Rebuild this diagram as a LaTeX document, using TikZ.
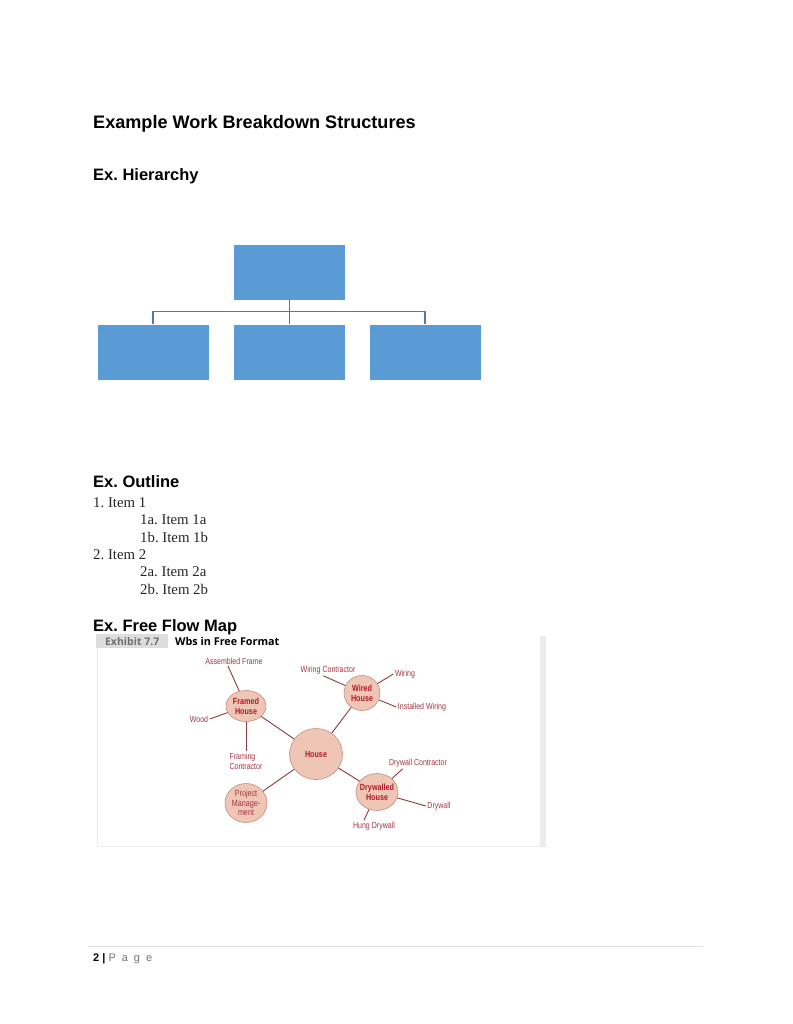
\documentclass[tikz,border=0pt]{standalone}
\usepackage{fontspec}
\setmainfont{Liberation Sans}
\newfontfamily\outfont{Liberation Serif}
\newfontfamily\condfont[FakeStretch=0.8]{Liberation Sans}
\newfontfamily\exfont{Open Sans}
\usetikzlibrary{shapes.geometric,calc}
\frenchspacing
\definecolor{boxblue}{HTML}{5B9BD5}
\definecolor{connblue}{HTML}{4A7DAE}
\definecolor{bubfill}{HTML}{EFC6B6}
\definecolor{bubdraw}{HTML}{C48C7C}
\definecolor{maproon}{HTML}{8A3B3E}
\definecolor{labred}{HTML}{A33445}
\definecolor{bubred}{HTML}{B01A2C}
\definecolor{exgray}{HTML}{DDDDDD}
\definecolor{extext}{HTML}{6E6E6E}
\definecolor{framegray}{HTML}{EBEBEB}
\tikzset{
  head/.style={anchor=base west, inner sep=0pt, font=\bfseries\fontsize{16.5}{19}\selectfont},
  outl/.style={anchor=base west, inner sep=0pt, text=black!85, font=\outfont\fontsize{14.8}{17}\selectfont},
  hbox/.style={rectangle, fill=boxblue, minimum width=111pt, minimum height=55pt, inner sep=0pt},
  hconn/.style={draw=connblue, line width=1.3pt},
  bub/.style={ellipse, fill=bubfill, draw=bubdraw, line width=0.6pt, inner sep=0pt},
  bubtxt/.style={align=center, inner sep=0pt, text=bubred, font=\condfont\bfseries\fontsize{9}{9.7}\selectfont},
  lab/.style={inner sep=1.5pt, text=labred, font=\condfont\fontsize{8.8}{9.8}\selectfont},
  mline/.style={draw=maproon, line width=0.9pt},
}
\begin{document}
\begin{tikzpicture}[x=1pt,y=-1pt]
\useasboundingbox (0,0) rectangle (792,1024);
% headings
\node[head, font=\bfseries\fontsize{18.1}{21}\selectfont] (title) at (93,128.5) {Example Work Breakdown Structures};
\node[head] (hier) at (93,180.5) {Ex. Hierarchy};
\node[head] (outh) at (93,487) {Ex. Outline};
\node[head] (ffm) at (93,631) {Ex. Free Flow Map};

% hierarchy
\node[hbox] (top) at (289.5,272.5) {};
\node[hbox] (bl) at (153,352) {};
\node[hbox] (bm) at (289.5,352) {};
\node[hbox] (br) at (425,352) {};
\draw[hconn] (top.south) -- (bm.north);
\draw[hconn] (bl.north) -- ++(0,-13) -| (br.north);

% outline
\node[outl] (o1) at (93,507) {1. Item 1};
\node[outl] (o1a) at (140,524.5) {1a. Item 1a};
\node[outl] (o1b) at (140,542) {1b. Item 1b};
\node[outl] (o2) at (93,559) {2. Item 2};
\node[outl] (o2a) at (140,576.5) {2a. Item 2a};
\node[outl] (o2b) at (140,594) {2b. Item 2b};

% exhibit frame
\fill[framegray] (540,636) rectangle (546,847);
\draw[framegray, line width=1pt] (97.5,648) -- (97.5,846) -- (546,846);
\node[fill=exgray, minimum width=72pt, minimum height=14pt, inner sep=0pt, anchor=north west] (exbox) at (96,634) {};
\node[text=extext, inner sep=0pt, font=\exfont\bfseries\fontsize{10.5}{12}\selectfont] (exlab) at (exbox) {Exhibit 7.7};
\node[anchor=base west, inner sep=0pt, font=\exfont\bfseries\fontsize{10.8}{12}\selectfont] (extitle) at (175,645) {Wbs in Free Format};

% free flow map bubbles
\node[bub, minimum width=53pt, minimum height=51pt] (h) at (316,754) {};
\node[bub, minimum width=40pt, minimum height=31pt] (fh) at (246,706) {};
\node[bub, minimum width=36pt, minimum height=35pt] (wh) at (362,693) {};
\node[bub, minimum width=42pt, minimum height=37pt] (dwh) at (377,792) {};
\node[bub, minimum width=42pt, minimum height=39pt] (pm) at (246,803) {};
\node[bubtxt] (ht) at (h) {House};
\node[bubtxt] (fht) at (fh) {Framed\\House};
\node[bubtxt] (wht) at (wh) {Wired\\House};
\node[bubtxt] (dwht) at (dwh) {Drywalled\\House};
\node[bubtxt, font=\condfont\fontsize{9}{9.7}\selectfont, text=labred] (pmt) at (pm) {Project\\Manage-\\ment};

% labels
\node[lab] (af) at (234,661) {Assembled Frame};
\node[lab] (wood) at (199,719) {Wood};
\node[lab, align=left] (fc) at (246,761) {Framing\\Contractor};
\node[lab] (wc) at (328,670) {Wiring Contractor};
\node[lab] (wir) at (405,674) {Wiring};
\node[lab] (iw) at (422,707) {Installed Wiring};
\node[lab] (dc) at (418,763) {Drywall Contractor};
\node[lab] (dry) at (439,806) {Drywall};
\node[lab] (hd) at (374,826) {Hung Drywall};

% connectors
\draw[mline] (h) -- (fh);
\draw[mline] (h) -- (wh);
\draw[mline] (h) -- (dwh);
\draw[mline] (h) -- (pm);
\draw[mline] (fh) -- ($(af.south west)!0.4!(af.south east)$);
\draw[mline] (fh) -- (wood.east);
\draw[mline] (fh) -- (fc.north);
\draw[mline] (wh) -- ($(wc.south west)!0.42!(wc.south east)$);
\draw[mline] (wh) -- (wir.west);
\draw[mline] (wh) -- (iw.west);
\draw[mline] (dwh) -- ($(dc.south west)!0.25!(dc.south east)$);
\draw[mline] (dwh) -- (dry.west);
\draw[mline] (dwh) -- ($(hd.north west)!0.28!(hd.north east)$);

% footer
\draw[black!12, line width=0.7pt] (88,946.5) coordinate (fl) -- (703,946.5) coordinate (fr);
\node[anchor=base west, inner sep=0pt, font=\fontsize{11}{13}\selectfont] (pg) at (93,961.5) {\textbf{2 |} \textcolor{black!55}{P\hspace{6pt}a\hspace{6pt}g\hspace{6pt}e}};
\end{tikzpicture}
\end{document}
